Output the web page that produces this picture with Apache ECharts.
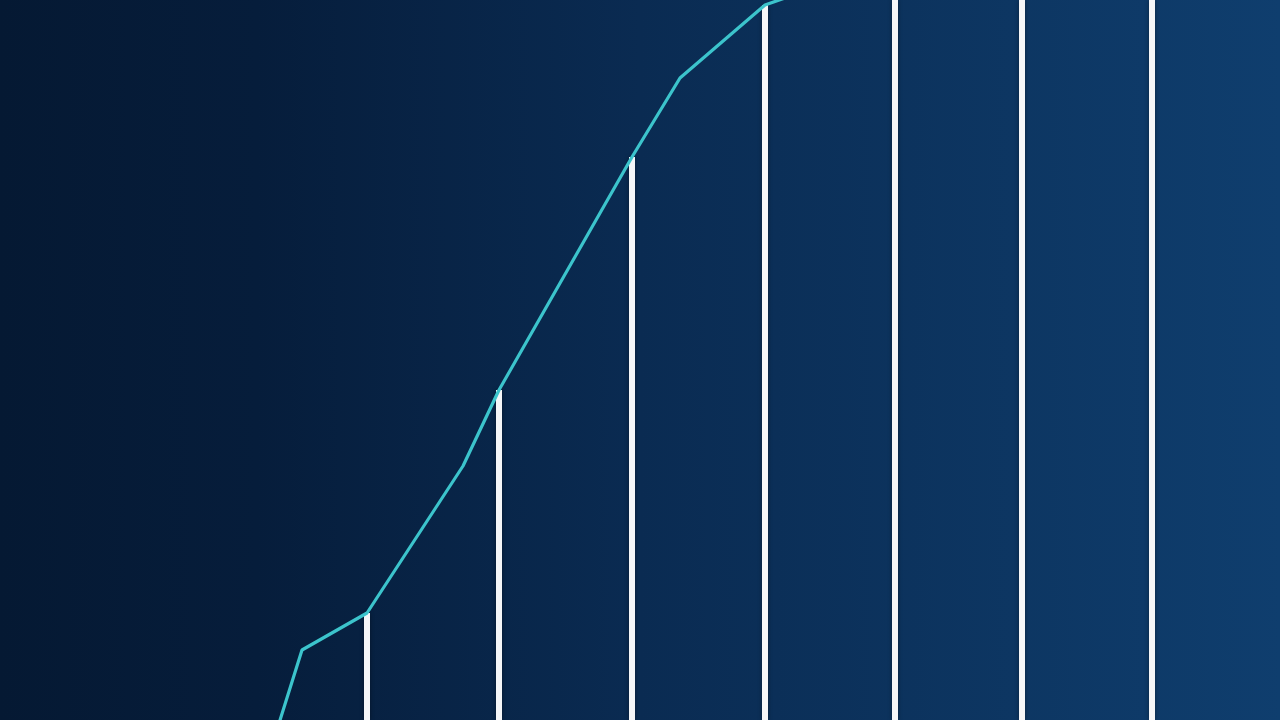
<!DOCTYPE html>
<html>
<head>
<meta charset="utf-8">
<style>html,body{margin:0;padding:0;background:#061a35;}#c{width:1280px;height:720px;}</style>
<script src="https://cdn.jsdelivr.net/npm/echarts@6/dist/echarts.min.js"></script>
</head>
<body>
<div id="c"></div>
<script>
// Curve points [x, value]
var curveX = [265, 302, 367, 463, 499, 632, 680, 765, 785, 840];
var curveY = [-48, 70, 107, 254, 330, 563, 642, 715, 722, 745];
// Vertical white markers [x, height]
var markerX = [367, 499, 632, 765, 895, 1022, 1152];
var markerY = [107, 330, 563, 715, 800, 800, 800];

var chart = echarts.init(document.getElementById('c'));
chart.setOption({
  animation: false,
  backgroundColor: {
    type: 'linear', x: 0, y: 0, x2: 1, y2: 0,
    colorStops: [
      {offset: 0, color: '#051933'},
      {offset: 0.2, color: '#061d3b'},
      {offset: 0.5, color: '#0a2b52'},
      {offset: 1, color: '#0f3e6e'}
    ]
  },
  grid: {left: 0, right: 0, top: 0, bottom: 0},
  xAxis: {type: 'value', min: 0, max: 1280, show: false},
  yAxis: {type: 'value', min: 0, max: 720, show: false},
  series: [
    {
      type: 'bar',
      barWidth: 6,
      clip: true,
      itemStyle: {color: '#f5f6f8', shadowColor: 'rgba(0,0,0,0.4)', shadowBlur: 4},
      data: markerX.map(function (x, i) { return [x, markerY[i]]; }),
      z: 2
    },
    {
      type: 'line',
      clip: true,
      symbol: 'none',
      lineStyle: {color: '#3cc4cc', width: 3.2},
      data: curveX.map(function (x, i) { return [x, curveY[i]]; }),
      z: 3
    }
  ]
});
</script>
</body>
</html>
